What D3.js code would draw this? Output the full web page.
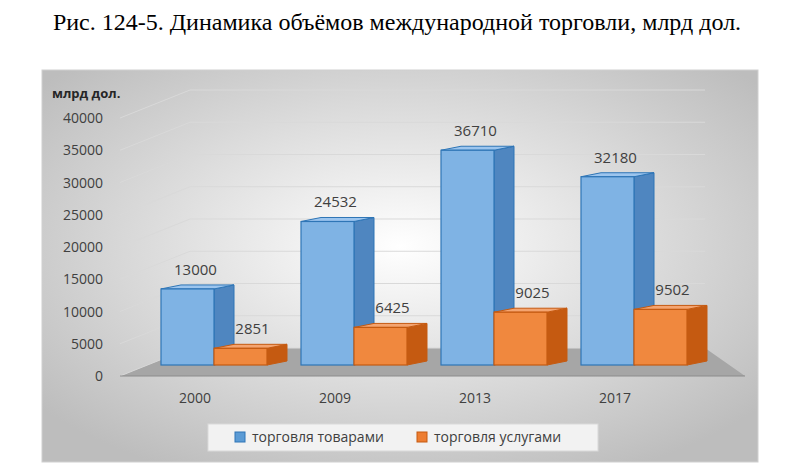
<!DOCTYPE html>
<html><head><meta charset="utf-8">
<script src="https://cdn.jsdelivr.net/npm/d3@7"></script>
<style>body{margin:0;background:#fff} .ttl{font-family:"Liberation Serif","Times New Roman","DejaVu Serif",serif}</style>
</head><body>
<svg width="800" height="468"></svg>
<script>
const years = ["2000", "2009", "2013", "2017"];
const goods = [13000, 24532, 36710, 32180];
const services = [2851, 6425, 9025, 9502];
const yTicks = [0, 5000, 10000, 15000, 20000, 25000, 30000, 35000, 40000];
const seriesNames = ["торговля товарами", "торговля услугами"];

const svg = d3.select("svg");
const defs = svg.append("defs");
const bg = defs.append("radialGradient").attr("id", "bg").attr("cx", "50%").attr("cy", "45%").attr("r", "65%");
bg.append("stop").attr("offset", "0%").attr("stop-color", "#ffffff");
bg.append("stop").attr("offset", "100%").attr("stop-color", "#bdbdbd");

svg.append("text").attr("class", "ttl").attr("x", 397).attr("y", 30).attr("text-anchor", "middle")
  .attr("font-size", 24)
  .text("Рис. 124-5. Динамика объёмов международной торговли,  млрд дол.");

svg.append("rect").attr("x", 42).attr("y", 70).attr("width", 716).attr("height", 392)
  .attr("fill", "url(#bg)").attr("stroke", "#d0d0d0");

// axis scale (front plane) and bar scale (depth plane)
const yAxis = d3.scaleLinear().domain([0, 40000]).range([376, 118]);
const yBar = d3.scaleLinear().domain([0, 40000]).range([365, 131]);
const x = d3.scaleBand().domain(years).range([125, 685]).padding(0);

// floor
svg.append("path").attr("d", "M120,376 L745,376 L705,348 L190,348 Z").attr("fill", "#a6a6a6");

// gridlines: slanted onto the back wall then horizontal
const grid = svg.append("g");
yTicks.forEach(t => {
  const y0 = yAxis(t), y1 = y0 - 28;
  grid.append("path").attr("d", `M120,${y0} L190,${y1} L705,${y1}`)
    .attr("fill", "none").attr("stroke", "#d9d9d9").attr("stroke-width", 1);
});
svg.append("line").attr("x1", 120).attr("x2", 745).attr("y1", 376).attr("y2", 376).attr("stroke", "#8c8c8c");

svg.append("g").selectAll("text").data(yTicks).join("text")
  .attr("x", 103).attr("y", d => yAxis(d) + 5).attr("text-anchor", "end")
  .attr("font-family", "Open Sans, sans-serif").attr("font-size", 14).attr("fill", "#404040")
  .text(d => d);
svg.append("text").attr("x", 52).attr("y", 98).attr("font-family", "Open Sans, sans-serif")
  .attr("font-weight", "bold").attr("font-size", 13).attr("fill", "#262626").text("млрд дол.");

const dx = 20, dy = -4, bw = 53;
function bar(g, x0, v, front, side, top, stroke) {
  const yt = yBar(v), yb = 365;
  g.append("path").attr("d", `M${x0 + bw},${yb} L${x0 + bw + dx},${yb + dy} L${x0 + bw + dx},${yt + dy} L${x0 + bw},${yt} Z`)
    .attr("fill", side).attr("stroke", stroke);
  g.append("path").attr("d", `M${x0},${yt} L${x0 + dx},${yt + dy} L${x0 + bw + dx},${yt + dy} L${x0 + bw},${yt} Z`)
    .attr("fill", top).attr("stroke", stroke);
  g.append("rect").attr("x", x0).attr("y", yt).attr("width", bw).attr("height", yb - yt)
    .attr("fill", front).attr("stroke", stroke).attr("stroke-width", 1.2);
}
const bars = svg.append("g");
years.forEach((yr, i) => {
  const x0 = x(yr) + 36;
  bar(bars, x0, goods[i], "#7fb3e4", "#4f86c0", "#9cc5ee", "#2e75b6");
  bar(bars, x0 + bw, services[i], "#f0883e", "#c55a11", "#f4a470", "#c55a11");
  svg.append("text").attr("x", x0 + bw / 2 + 8).attr("y", yBar(goods[i]) - 14).attr("text-anchor", "middle")
    .attr("font-family", "Open Sans, sans-serif").attr("font-size", 15).attr("fill", "#404040").text(goods[i]);
  svg.append("text").attr("x", x0 + bw * 1.5 + 12).attr("y", yBar(services[i]) - 14).attr("text-anchor", "middle")
    .attr("font-family", "Open Sans, sans-serif").attr("font-size", 15).attr("fill", "#404040").text(services[i]);
  svg.append("text").attr("x", x(yr) + x.bandwidth() / 2).attr("y", 403).attr("text-anchor", "middle")
    .attr("font-family", "Open Sans, sans-serif").attr("font-size", 14).attr("fill", "#404040").text(yr);
});

// legend
svg.append("rect").attr("x", 208).attr("y", 424).attr("width", 390).attr("height", 27)
  .attr("fill", "#f2f2f2").attr("stroke", "#d9d9d9");
const lg = svg.append("g").selectAll("g").data(seriesNames).join("g")
  .attr("transform", (d, i) => `translate(${i ? 417 : 235},437)`);
lg.append("rect").attr("x", 0).attr("y", -5).attr("width", 10).attr("height", 10)
  .attr("fill", (d, i) => i ? "#ed7d31" : "#5b9bd5").attr("stroke", (d, i) => i ? "#c55a11" : "#2e75b6");
lg.append("text").attr("x", 17).attr("y", 5).attr("font-family", "Open Sans, sans-serif")
  .attr("font-size", 14).attr("fill", "#404040").text(d => d);
</script>
</body></html>
